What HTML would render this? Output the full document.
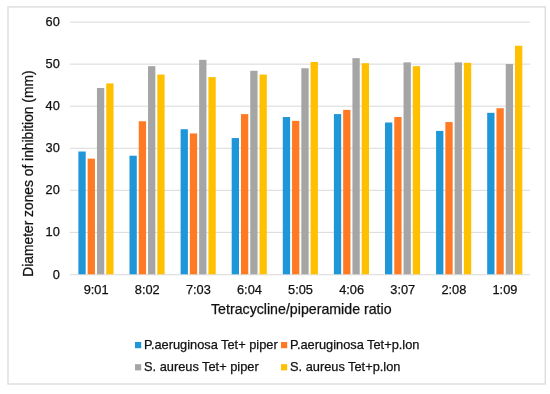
<!DOCTYPE html>
<html><head><meta charset="utf-8"><style>
html,body{margin:0;padding:0;background:#fff;}
svg{display:block;}
text{font-family:"Liberation Sans",Arial,sans-serif;fill:#111;stroke:#111;stroke-width:0.25px;}
.ax{font-size:12.8px;}
.tt{font-size:14.2px;}
.yt{font-size:13.8px;}
.lg{font-size:12.8px;}
</style></head><body>
<svg width="550" height="394" viewBox="0 0 550 394">
<rect width="550" height="394" fill="#fff"/>
<rect x="8" y="6.9" width="537.3" height="377.1" fill="#fff" stroke="#DDDDDD" stroke-width="1.4"/>
<line x1="69.8" x2="530.2" y1="274.75" y2="274.75" stroke="#D9D9D9" stroke-width="1"/>
<text x="59.8" y="278.65" text-anchor="end" class="ax">0</text>
<line x1="69.8" x2="530.2" y1="232.35" y2="232.35" stroke="#D9D9D9" stroke-width="1"/>
<text x="59.8" y="236.25" text-anchor="end" class="ax">10</text>
<line x1="69.8" x2="530.2" y1="190.30" y2="190.30" stroke="#D9D9D9" stroke-width="1"/>
<text x="59.8" y="194.20" text-anchor="end" class="ax">20</text>
<line x1="69.8" x2="530.2" y1="148.25" y2="148.25" stroke="#D9D9D9" stroke-width="1"/>
<text x="59.8" y="152.15" text-anchor="end" class="ax">30</text>
<line x1="69.8" x2="530.2" y1="106.20" y2="106.20" stroke="#D9D9D9" stroke-width="1"/>
<text x="59.8" y="110.10" text-anchor="end" class="ax">40</text>
<line x1="69.8" x2="530.2" y1="64.15" y2="64.15" stroke="#D9D9D9" stroke-width="1"/>
<text x="59.8" y="68.05" text-anchor="end" class="ax">50</text>
<line x1="69.8" x2="530.2" y1="22.10" y2="22.10" stroke="#D9D9D9" stroke-width="1"/>
<text x="59.8" y="26.00" text-anchor="end" class="ax">60</text>
<rect x="78.39" y="151.51" width="7.30" height="122.79" fill="#1E96D8"/>
<rect x="87.66" y="158.66" width="7.30" height="115.64" fill="#FF7A22"/>
<rect x="96.94" y="88.02" width="7.30" height="186.28" fill="#A5A5A5"/>
<rect x="106.21" y="83.39" width="7.30" height="190.91" fill="#FFC000"/>
<text x="96.15" y="293.5" text-anchor="middle" class="ax">9:01</text>
<rect x="129.49" y="155.72" width="7.30" height="118.58" fill="#1E96D8"/>
<rect x="138.76" y="121.24" width="7.30" height="153.06" fill="#FF7A22"/>
<rect x="148.04" y="66.15" width="7.30" height="208.15" fill="#A5A5A5"/>
<rect x="157.31" y="74.56" width="7.30" height="199.74" fill="#FFC000"/>
<text x="147.25" y="293.5" text-anchor="middle" class="ax">8:02</text>
<rect x="180.59" y="129.23" width="7.30" height="145.07" fill="#1E96D8"/>
<rect x="189.86" y="133.43" width="7.30" height="140.87" fill="#FF7A22"/>
<rect x="199.14" y="59.84" width="7.30" height="214.46" fill="#A5A5A5"/>
<rect x="208.41" y="77.09" width="7.30" height="197.21" fill="#FFC000"/>
<text x="198.35" y="293.5" text-anchor="middle" class="ax">7:03</text>
<rect x="231.69" y="138.06" width="7.30" height="136.24" fill="#1E96D8"/>
<rect x="240.96" y="114.09" width="7.30" height="160.21" fill="#FF7A22"/>
<rect x="250.24" y="70.78" width="7.30" height="203.52" fill="#A5A5A5"/>
<rect x="259.51" y="74.56" width="7.30" height="199.74" fill="#FFC000"/>
<text x="249.45" y="293.5" text-anchor="middle" class="ax">6:04</text>
<rect x="282.79" y="117.03" width="7.30" height="157.27" fill="#1E96D8"/>
<rect x="292.06" y="120.82" width="7.30" height="153.48" fill="#FF7A22"/>
<rect x="301.34" y="68.25" width="7.30" height="206.05" fill="#A5A5A5"/>
<rect x="310.61" y="61.95" width="7.30" height="212.35" fill="#FFC000"/>
<text x="300.55" y="293.5" text-anchor="middle" class="ax">5:05</text>
<rect x="333.89" y="114.09" width="7.30" height="160.21" fill="#1E96D8"/>
<rect x="343.16" y="109.88" width="7.30" height="164.42" fill="#FF7A22"/>
<rect x="352.44" y="58.16" width="7.30" height="216.14" fill="#A5A5A5"/>
<rect x="361.71" y="63.21" width="7.30" height="211.09" fill="#FFC000"/>
<text x="351.65" y="293.5" text-anchor="middle" class="ax">4:06</text>
<rect x="384.99" y="122.50" width="7.30" height="151.80" fill="#1E96D8"/>
<rect x="394.26" y="117.03" width="7.30" height="157.27" fill="#FF7A22"/>
<rect x="403.54" y="62.37" width="7.30" height="211.93" fill="#A5A5A5"/>
<rect x="412.81" y="66.15" width="7.30" height="208.15" fill="#FFC000"/>
<text x="402.75" y="293.5" text-anchor="middle" class="ax">3:07</text>
<rect x="436.09" y="130.91" width="7.30" height="143.39" fill="#1E96D8"/>
<rect x="445.36" y="122.08" width="7.30" height="152.22" fill="#FF7A22"/>
<rect x="454.64" y="62.37" width="7.30" height="211.93" fill="#A5A5A5"/>
<rect x="463.91" y="62.79" width="7.30" height="211.51" fill="#FFC000"/>
<text x="453.85" y="293.5" text-anchor="middle" class="ax">2:08</text>
<rect x="487.19" y="112.83" width="7.30" height="161.47" fill="#1E96D8"/>
<rect x="496.46" y="108.20" width="7.30" height="166.10" fill="#FF7A22"/>
<rect x="505.74" y="64.05" width="7.30" height="210.25" fill="#A5A5A5"/>
<rect x="515.01" y="45.76" width="7.30" height="228.54" fill="#FFC000"/>
<text x="504.95" y="293.5" text-anchor="middle" class="ax">1:09</text>
<text x="301.3" y="313.8" text-anchor="middle" class="tt">Tetracycline/piperamide ratio</text>
<text transform="translate(32.8,173.6) rotate(-90)" text-anchor="middle" class="yt">Diameter zones of inhibition (mm)</text>
<rect x="135" y="342" width="6.2" height="6.2" fill="#1E96D8"/>
<text x="144.00" y="348.90" class="lg">P.aeruginosa Tet+ piper</text>
<rect x="281" y="342" width="6.2" height="6.2" fill="#FF7A22"/>
<text x="290.00" y="348.90" class="lg">P.aeruginosa Tet+p.lon</text>
<rect x="135" y="364.2" width="6.2" height="6.2" fill="#A5A5A5"/>
<text x="144.00" y="371.10" class="lg">S. aureus Tet+ piper</text>
<rect x="281" y="364.2" width="6.2" height="6.2" fill="#FFC000"/>
<text x="290.00" y="371.10" class="lg">S. aureus Tet+p.lon</text>
</svg>
</body></html>
